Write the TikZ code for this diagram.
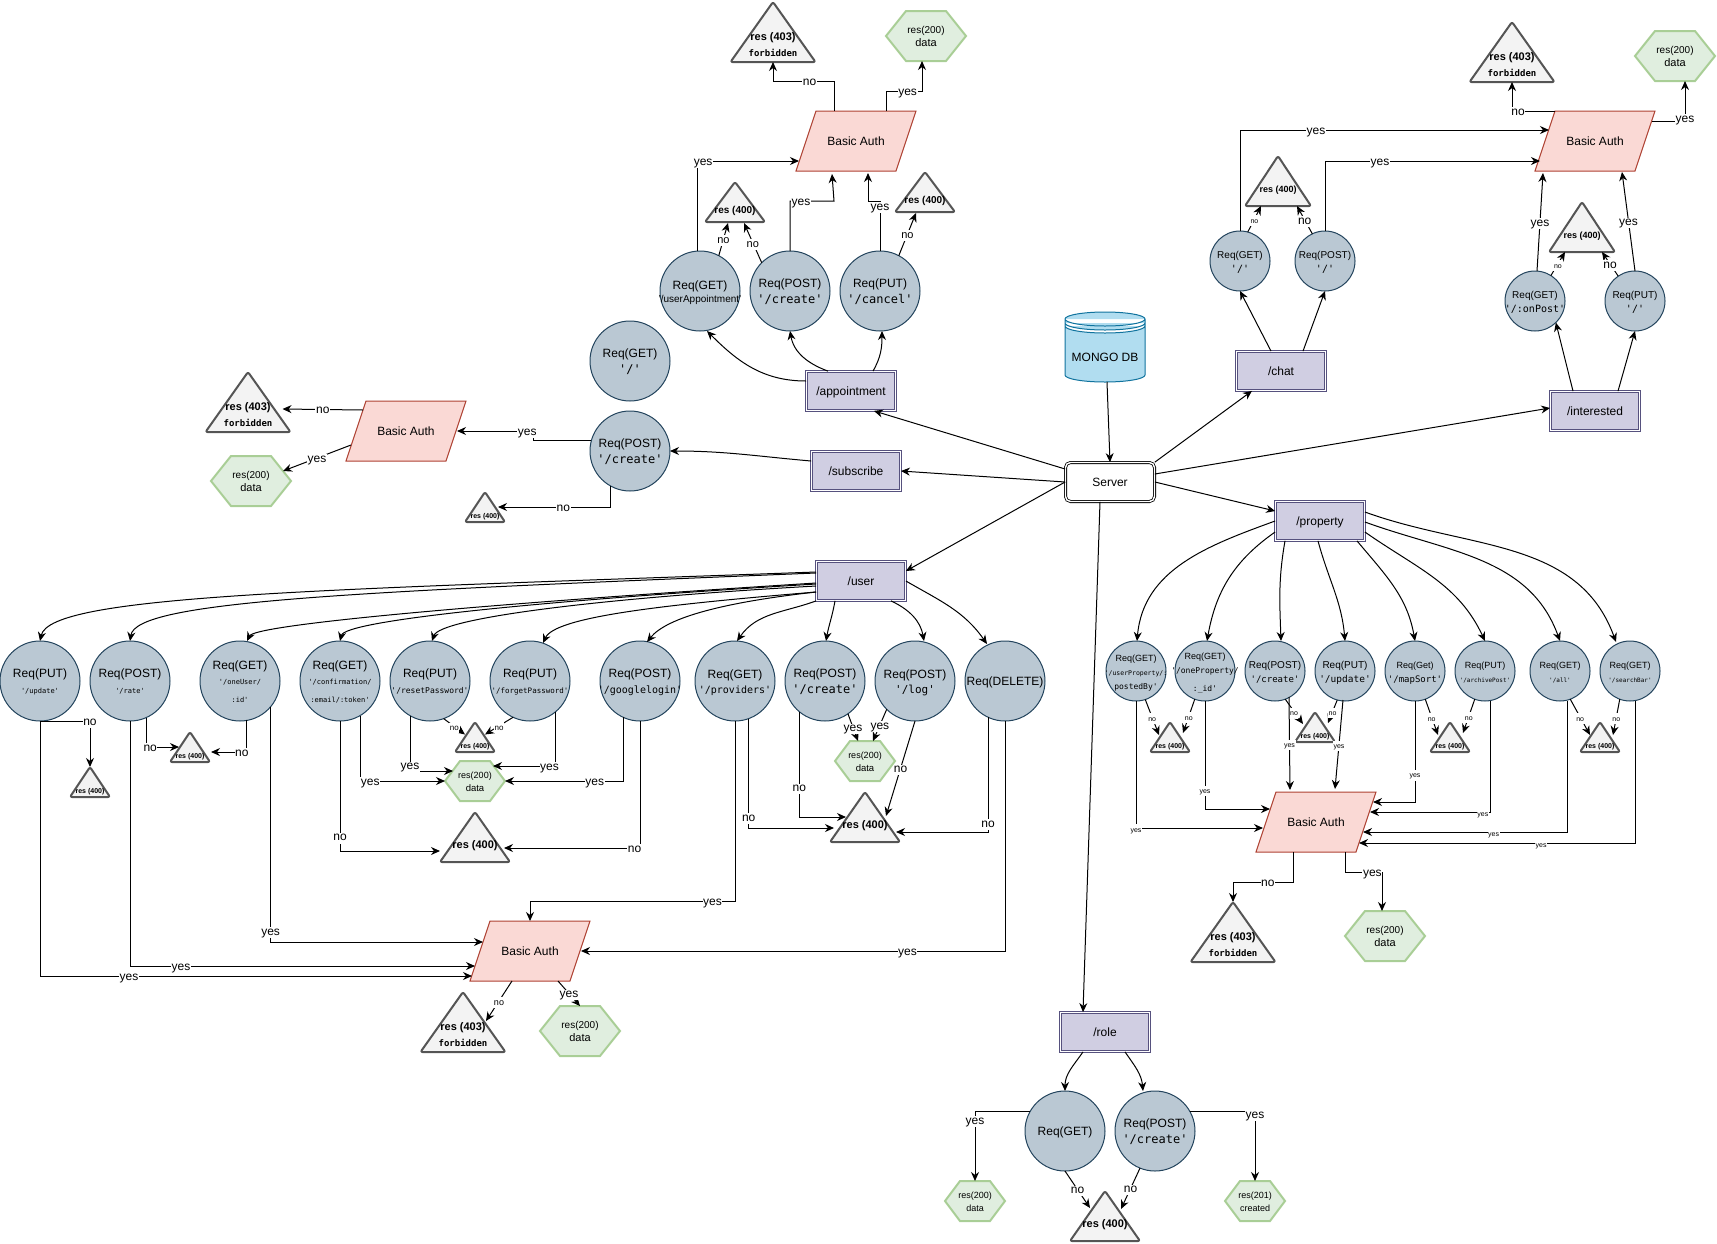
\documentclass[tikz,border=0pt]{standalone}
\usepackage{fontspec}
\usetikzlibrary{arrows.meta}
\setmainfont{Liberation Sans}
\setmonofont{DejaVu Sans Mono}
\pgfdeclarelayer{back}
\pgfsetlayers{back,main}
\definecolor{reqfill}{HTML}{BAC8D3}
\definecolor{reqline}{HTML}{23445D}
\definecolor{boxfill}{HTML}{D0CEE2}
\definecolor{boxline}{HTML}{56517E}
\definecolor{authfill}{HTML}{FAD9D5}
\definecolor{authline}{HTML}{AE4132}
\definecolor{hexfill}{HTML}{E0EEDF}
\definecolor{hexline}{HTML}{A9CE96}
\definecolor{trifill}{HTML}{F3F3F3}
\definecolor{triline}{HTML}{555555}
\definecolor{dbfill}{HTML}{B1DDF0}
\definecolor{dbline}{HTML}{10739E}
\newcommand{\fs}[1]{\fontsize{#1}{#1}\selectfont}
\newcommand{\mono}[2]{{\ttfamily\fs{#1}#2}}
\newcommand{\bare}[2][0pt]{\raisebox{\dimexpr-#1-5pt\relax}[0pt][0pt]{\makebox[0pt]{\begin{tabular}{@{}c@{}}#2\end{tabular}}}}
\newcommand{\badreq}[1]{\bare[6.5pt]{\fs{#1}\bfseries res (400)}}
\newcommand{\denied}{\bare[11.5pt]{\fs{11}\bfseries res (403)\\[4pt]\mono{9}{\bfseries forbidden}}}
\newcommand{\okdata}[2]{\bare{\fs{#1}res(200)\\[1pt]\fs{#2}data}}
\begin{document}
\begin{tikzpicture}[x=1pt,y=-1pt,
req/.style = {circle, draw=reqline, fill=reqfill, minimum size=#1, inner sep=0pt, outer sep=0pt, line width=1pt, font=\fs{12}},
req/.default = 80pt,
route/.style = {rectangle, draw=boxline, fill=boxfill, double=white, double distance=1.4pt, line width=.8pt, minimum width=89pt, minimum height=39pt, inner sep=0pt, font=\fs{12}},
tri/.style 2 args = {rectangle, minimum width=#1, minimum height=#2, inner sep=0pt, outer sep=0pt,
  append after command={\pgfextra{\begin{pgfonlayer}{back}
  \draw[draw=triline, fill=trifill, line width=2pt, rounded corners=2pt, line join=round]
    (\tikzlastnode.south west) -- (\tikzlastnode.north) -- (\tikzlastnode.south east) -- cycle;
  \end{pgfonlayer}}}},
hexa/.style 2 args = {rectangle, minimum width=#1, minimum height=#2, inner sep=0pt, outer sep=0pt, font=\fs{12},
  append after command={\pgfextra{\begin{pgfonlayer}{back}
  \draw[draw=hexline, fill=hexfill, line width=2pt]
    (\tikzlastnode.west) -- ([xshift=#1/4]\tikzlastnode.north west) -- ([xshift=-#1/4]\tikzlastnode.north east)
    -- (\tikzlastnode.east) -- ([xshift=-#1/4]\tikzlastnode.south east) -- ([xshift=#1/4]\tikzlastnode.south west) -- cycle;
  \end{pgfonlayer}}}},
auth/.style = {rectangle, minimum width=120pt, minimum height=60pt, inner sep=0pt, outer sep=0pt, font=\fs{12},
  append after command={\pgfextra{\begin{pgfonlayer}{back}
  \draw[draw=authline, fill=authfill, line width=1pt]
    (\tikzlastnode.south west) -- ([xshift=20pt]\tikzlastnode.north west) -- (\tikzlastnode.north east)
    -- ([xshift=-20pt]\tikzlastnode.south east) -- cycle;
  \end{pgfonlayer}}}},
store/.style = {rectangle, minimum width=80pt, minimum height=70pt, inner sep=0pt, outer sep=0pt, font=\fs{12},
  append after command={\pgfextra{\begin{pgfonlayer}{back}
  \draw[draw=dbline, fill=dbfill, line width=1pt]
    ([yshift=-7pt]\tikzlastnode.north west) arc[start angle=180,end angle=0,x radius=40pt,y radius=7pt]
    -- ([yshift=7pt]\tikzlastnode.south east) arc[start angle=0,end angle=-180,x radius=40pt,y radius=7pt] -- cycle
    ([yshift=-7pt]\tikzlastnode.north west) arc[start angle=180,end angle=360,x radius=40pt,y radius=7pt]
    ([yshift=-11pt]\tikzlastnode.north west) arc[start angle=180,end angle=360,x radius=40pt,y radius=7pt]
    ([yshift=-14pt]\tikzlastnode.north west) arc[start angle=180,end angle=360,x radius=40pt,y radius=7pt];
  \end{pgfonlayer}}}},
arr/.style = {-{Stealth[length=9pt,width=8pt]}, line width=1pt},
lab/.style = {fill=white, inner sep=.6pt, yshift=-1.5pt, text height=.75em, text depth=.2em, font=\fs{#1}},
lab/.default = 12,
]
\useasboundingbox (0,0) rectangle (1717,1243);

% server side
\node[store] (mongo) at (1105,347) {\bare[10pt]{MONGO DB}};
\node[rectangle, draw=black, fill=white, double, double distance=1.4pt, line width=.8pt, rounded corners=5pt, minimum width=89pt, minimum height=39pt, font=\fs{12}] (server) at (1110,482) {\bare{Server}};
\node[route] (appt) at (851,391) {\bare{/appointment}};
\node[route] (sub) at (856,471) {\bare{/subscribe}};
\node[route] (user) at (861,581) {\bare{/user}};
\node[route] (chat) at (1281,371) {\bare{/chat}};
\node[route] (inter) at (1595,411) {\bare{/interested}};
\node[route] (prop) at (1320,521) {\bare{/property}};
\node[route] (role) at (1105,1032) {\bare{/role}};
\draw[arr] ([xshift=2]mongo.south) -- (server.north);
\draw[arr] ([yshift=13]server.west) -- ([xshift=-22]appt.south east);
\draw[arr] (server.west) -- (sub.east);
\draw[arr] (server.west) -- ([yshift=10]user.east);
\draw[arr] ([xshift=-10]server.south) -- ([xshift=-22]role.north);
\draw[arr] (server.east) -- ([yshift=10]prop.west);
\draw[arr] ([yshift=8]server.east) -- ([yshift=3]inter.west);
\draw[arr] (server.north east) -- ([xshift=-29]chat.south);

% appointment
\node[req] (aGet) at (700,291) {\bare{Req(GET)\\[1pt]\fs{10}'/userAppointment'}};
\node[req] (aPost) at (790,291) {\bare{Req(POST)\\[4pt]\mono{12}{'/create'}}};
\node[req] (aPut) at (880,291) {\bare{Req(PUT)\\[3pt]\mono{12}{'/cancel'}}};
\node[auth] (aAuth) at (856,141) {\bare{Basic Auth}};
\node[tri={85pt}{60pt}] (aDeny) at (773,32) {\denied};
\node[hexa={80pt}{50pt}] (aOk) at (926,36) {\okdata{10}{11}};
\node[tri={60pt}{40pt}] (aBadL) at (735,202) {\badreq{10}};
\node[tri={60pt}{40pt}] (aBadR) at (925,192) {\badreq{10}};
\draw[arr] ([yshift=10]appt.west) to[out=180,in=-45] ([xshift=7]aGet.south);
\draw[arr] ([xshift=-23]appt.north) to[out=160,in=-80] (aPost.south);
\draw[arr] ([xshift=22]appt.north) to[out=60,in=-90] ([xshift=2]aPut.south);
\draw[arr] (aGet.62) -- node[lab=11]{no} ([xshift=-7,yshift=-1]aBadL.south);
\draw[arr] (aPost.135) -- node[lab=11]{no} ([xshift=9,yshift=-1]aBadL.south);
\draw[arr] (aPut.62) -- node[lab=11]{no} ([xshift=-9,yshift=-1]aBadR.south);
\draw[arr] ([xshift=-3]aGet.north) |- node[lab,pos=.53]{yes} ([xshift=3,yshift=-20]aAuth.west);
\draw[arr] (aPost.north) -- ++(0,-50) -- node[lab,pos=.25]{yes} ++(44,0) -- ([xshift=-24,yshift=-3]aAuth.south);
\draw[arr] (aPut.north) -- node[lab,pos=.9]{yes} ++(0,-50) -- ++(-12,0) -- ([xshift=12,yshift=-2]aAuth.south);
\draw[arr] ([xshift=-22]aAuth.north) -- ++(0,-30) -| node[lab,pos=.2]{no} (aDeny.south);
\draw[arr] ([xshift=30]aAuth.north) -- ++(0,-20) -| node[lab,pos=.3]{yes} ([xshift=-4]aOk.south);

% subscribe
\node[req] (sGet) at (630,361) {\bare{Req(GET)\\[4pt]\mono{12}{'/'}}};
\node[req] (sPost) at (630,451) {\bare{Req(POST)\\[4pt]\mono{12}{'/create'}}};
\node[auth] (sAuth) at (406,431) {\bare{Basic Auth}};
\node[tri={85pt}{60pt}] (sDeny) at (248,402) {\denied};
\node[hexa={80pt}{50pt}] (sOk) at (251,481) {\okdata{10}{11}};
\node[tri={40pt}{30pt}] (sBad) at (485,507) {\badreq{7}};
\draw[arr] ([yshift=10]sub.west) to[out=175,in=0] (sPost.east);
\draw[arr] (sPost.165) -- ++(-58,0) |- node[lab,pos=.54]{yes} ([xshift=-9]sAuth.east);
\draw[arr] (sPost.241) |- node[lab,pos=.71]{no} ([xshift=-7]sBad.east);
\draw[arr] ([xshift=17,yshift=21]sAuth.west) -- node[lab]{no} ([xshift=-8,yshift=-7]sDeny.east);
\draw[arr] ([xshift=5,yshift=-14]sAuth.west) -- node[lab]{yes} ([xshift=-8,yshift=10]sOk.east);

% chat
\node[req=60pt,font=\fs{10}] (cGet) at (1240,261) {\bare{Req(GET)\\[3pt]\mono{10}{'/'}}};
\node[req=60pt,font=\fs{10}] (cPost) at (1325,261) {\bare{Req(POST)\\[3pt]\mono{10}{'/'}}};
\node[tri={66pt}{50pt}] (cBad) at (1278,181) {\badreq{9}};
\draw[arr] ([xshift=-10]chat.north) -- (cGet.south);
\draw[arr] ([xshift=22]chat.north) -- (cPost.south);
\draw[arr] (cGet.75) -- node[lab=7]{no} ([xshift=-17]cBad.south);
\draw[arr] (cPost.115) -- node[lab]{no} ([xshift=19]cBad.south);

% interested
\node[req=60pt,font=\fs{10}] (iGet) at (1535,301) {\bare{Req(GET)\\[4pt]\mono{10}{'/:onPost'}}};
\node[req=60pt,font=\fs{10}] (iPut) at (1635,301) {\bare{Req(PUT)\\[4pt]\mono{10}{'/'}}};
\node[auth] (iAuth) at (1595,141) {\bare{Basic Auth}};
\node[tri={85pt}{60pt}] (iDeny) at (1512,52) {\denied};
\node[hexa={80pt}{50pt}] (iOk) at (1675,56) {\okdata{10}{11}};
\node[tri={66pt}{50pt}] (iBad) at (1582,227) {\badreq{9}};
\draw[arr] ([xshift=-22]inter.north) -- (iGet.-46);
\draw[arr] ([xshift=23]inter.north) -- (iPut.south);
\draw[arr] (iGet.58) -- node[lab=7]{no} ([xshift=-17]iBad.south);
\draw[arr] (iPut.124) -- node[lab]{no} ([xshift=20]iBad.south);
\draw[arr] ([xshift=2]iGet.north) -- node[lab]{yes} ([xshift=-52,yshift=-2]iAuth.south);
\draw[arr] (iPut.north) -- node[lab]{yes} ([xshift=27,yshift=-1]iAuth.south);
\draw[arr] (cGet.north) |- node[lab,pos=.623]{yes} ([xshift=14,yshift=11]iAuth.west);
\draw[arr] (cPost.north) |- node[lab,pos=.628]{yes} ([xshift=5,yshift=-20]iAuth.west);
\draw[arr] ([xshift=20]iAuth.north west) -| node[lab,pos=.43]{no} (iDeny.south);
\draw[arr] ([xshift=-3,yshift=20]iAuth.east) -| node[lab,pos=.54]{yes} ([xshift=10]iOk.south);

% user
\node[req] (uPut) at (40,681) {\bare{Req(PUT)\\[4pt]\mono{7}{'/update'}}};
\node[req] (uRate) at (130,681) {\bare{Req(POST)\\[4pt]\mono{7}{'/rate'}}};
\node[req] (uOne) at (240,681) {\bare{Req(GET)\\[3pt]\mono{7}{'/oneUser/}\\[6pt]\mono{7}{:id'}}};
\node[req] (uConf) at (340,681) {\bare{Req(GET)\\[3pt]\mono{7}{'/confirmation/}\\[6pt]\mono{7}{:email/:token'}}};
\node[req] (uReset) at (430,681) {\bare{Req(PUT)\\[4pt]\mono{8}{'/resetPassword'}}};
\node[req] (uForget) at (530,681) {\bare{Req(PUT)\\[4pt]\mono{7.5}{'/forgetPassword'}}};
\node[req] (uGoogle) at (640,681) {\bare{Req(POST)\\[4pt]\mono{10}{'/googlelogin'}}};
\node[req] (uProv) at (735,681) {\bare{Req(GET)\\[3pt]\mono{10}{'/providers'}}};
\node[req] (uCreate) at (825,681) {\bare{Req(POST)\\[4pt]\mono{12}{'/create'}}};
\node[req] (uLog) at (915,681) {\bare{Req(POST)\\[3pt]\mono{11}{'/log'}}};
\node[req] (uDel) at (1005,681) {\bare{Req(DELETE)}};
\node[tri={40pt}{30pt}] (uBadA) at (90,782) {\badreq{7}};
\node[tri={40pt}{30pt}] (uBadB) at (190,747) {\badreq{7}};
\node[tri={40pt}{30pt}] (uBadC) at (475,737) {\badreq{7}};
\node[hexa={60pt}{40pt}] (uOkA) at (475,781) {\okdata{9}{9.5}};
\node[tri={70pt}{50pt}] (uBadD) at (475,837) {\badreq{11}};
\node[hexa={60pt}{40pt}] (uOkB) at (865,761) {\okdata{9}{9.5}};
\node[tri={70pt}{50pt}] (uBadE) at (865,817) {\badreq{11}};
\node[auth] (uAuth) at (530,951) {\bare{Basic Auth}};
\node[tri={85pt}{60pt}] (uDeny) at (463,1022) {\denied};
\node[hexa={80pt}{50pt}] (uOkC) at (580,1031) {\okdata{10}{11}};
\draw[arr] ([yshift=9]user.west) .. controls +(-500,18) and +(10,-46) .. (uPut.north);
\draw[arr] ([yshift=8]user.west) .. controls +(-466,19) and +(6,-40) .. (uRate.north);
\draw[arr] ([yshift=-2]user.west) .. controls +(-350,22) and +(8,-16) .. ([xshift=7]uOne.north);
\draw[arr] ([yshift=-3]user.west) .. controls +(-266,16) and +(5,-21) .. (uConf.north);
\draw[arr] ([yshift=-5]user.west) .. controls +(-216,12) and +(8,-23) .. ([xshift=2]uReset.north);
\draw[arr] ([yshift=-11]user.west) .. controls +(-156,13) and +(12,-26) .. ([xshift=13,yshift=-2]uForget.north);
\draw[arr] ([yshift=-11]user.west) .. controls +(-90,10) and +(20,-25) .. ([xshift=7,yshift=-1]uGoogle.north);
\draw[arr] (user.south west) to[out=200,in=55] ([xshift=2]uProv.north);
\draw[arr] ([xshift=-26]user.south) to[out=-100,in=80] ([xshift=1]uCreate.north);
\draw[arr] ([xshift=30]user.south) to[out=-25,in=100] ([xshift=9]uLog.north);
\draw[arr] (user.east) to[out=-30,in=125] ([xshift=-18,yshift=-3]uDel.north);
\draw[arr] (uPut.south) -| node[lab,pos=.5]{no} (uBadA.north);
\draw[arr] (uPut.south) |- node[lab,pos=.603]{yes} ([xshift=2,yshift=-25]uAuth.west);
\draw[arr] (uRate.-66) |- node[lab,pos=.56]{no} ([xshift=-11]uBadB.center);
\draw[arr] (uRate.south) |- node[lab,pos=.574]{yes} ([xshift=5,yshift=-15]uAuth.west);
\draw[arr] (uOne.-80) |- node[lab,pos=.57]{no} ([xshift=21,yshift=-5]uBadB.center);
\draw[arr] (uOne.-40) |- node[lab,pos=.477]{yes} ([xshift=13,yshift=9]uAuth.west);
\draw[arr] (uConf.south) |- node[lab,pos=.445]{no} ([yshift=-14]uBadD.west);
\draw[arr] (uConf.-60) |- node[lab,pos=.56]{yes} (uOkA.west);
\draw[arr] (uReset.-120) |- node[lab,pos=.45]{yes} ([xshift=8,yshift=10]uOkA.west);
\draw[arr] (uReset.-70) -- node[lab=8]{no} ([xshift=-10,yshift=2.5]uBadC.center);
\draw[arr] (uForget.-115) -- node[lab=8]{no} ([xshift=10,yshift=2.5]uBadC.center);
\draw[arr] (uForget.-50) |- node[lab,pos=.55]{yes} ([xshift=-12,yshift=15]uOkA.east);
\draw[arr] (uGoogle.-115) |- node[lab,pos=.62]{yes} (uOkA.east);
\draw[arr] (uGoogle.south) |- node[lab,pos=.52]{no} ([xshift=-6,yshift=-11]uBadD.east);
\draw[arr] (uProv.-70) |- node[lab,pos=.45]{no} ([xshift=4,yshift=-11]uBadE.west);
\draw[arr] (uProv.south) -- ++(0,180) -| node[lab,pos=.055]{yes} (uAuth.north);
\draw[arr] (uCreate.-130) |- node[lab,pos=.36]{no} ([xshift=-19]uBadE.center);
\draw[arr] (uCreate.-55) -- node[lab]{yes} ([xshift=-7]uOkB.north);
\draw[arr] (uLog.-135) -- node[lab]{yes} ([xshift=8]uOkB.north);
\draw[arr] (uLog.south) -- node[lab]{no} ([xshift=21,yshift=1]uBadE.center);
\draw[arr] (uDel.-115) |- node[lab,pos=.46]{no} ([xshift=-4,yshift=-15]uBadE.east);
\draw[arr] (uDel.south) |- node[lab,pos=.615]{yes} ([xshift=-9]uAuth.east);
\draw[arr] ([xshift=-18]uAuth.south) -- node[lab=9]{no} ([xshift=23,yshift=1]uDeny.center);
\draw[arr] ([xshift=28]uAuth.south) -- node[lab]{yes} (uOkC.north);

% property
\node[req=60pt,font=\fs{9}] (pA) at (1136,671) {\bare{Req(GET)\\[5pt]\mono{6.5}{'/userProperty/:}\\[5pt]\mono{8}{postedBy'}}};
\node[req=60pt,font=\fs{9}] (pB) at (1205,671) {\bare{Req(GET)\\[5pt]\mono{8}{'/oneProperty/}\\[9pt]\mono{8}{:\_id'}}};
\node[req=60pt,font=\fs{10}] (pC) at (1275,671) {\bare{Req(POST)\\[4pt]\mono{9}{'/create'}}};
\node[req=60pt,font=\fs{10}] (pD) at (1345,671) {\bare{Req(PUT)\\[4pt]\mono{9.5}{'/update'}}};
\node[req=60pt,font=\fs{9}] (pE) at (1415,671) {\bare{Req(Get)\\[5pt]\mono{9}{'/mapSort'}}};
\node[req=60pt,font=\fs{9}] (pF) at (1485,671) {\bare{Req(PUT)\\[5pt]\mono{6}{'/archivePost'}}};
\node[req=60pt,font=\fs{9}] (pG) at (1560,671) {\bare{Req(GET)\\[5pt]\mono{6}{'/all'}}};
\node[req=60pt,font=\fs{9}] (pH) at (1630,671) {\bare{Req(GET)\\[5pt]\mono{6}{'/searchBar'}}};
\node[tri={40pt}{30pt}] (pBadA) at (1170,737) {\badreq{7}};
\node[tri={40pt}{30pt}] (pBadB) at (1315,727) {\badreq{7}};
\node[tri={40pt}{30pt}] (pBadC) at (1450,737) {\badreq{7}};
\node[tri={40pt}{30pt}] (pBadD) at (1600,737) {\badreq{7}};
\node[auth] (pAuth) at (1316,822) {\bare{Basic Auth}};
\node[tri={85pt}{60pt}] (pDeny) at (1233,932) {\denied};
\node[hexa={80pt}{50pt}] (pOk) at (1385,936) {\okdata{10}{11}};
\draw[arr] (prop.west) to[out=200,in=85] ([xshift=1]pA.north);
\draw[arr] ([yshift=-11]prop.west) to[out=215,in=80] ([xshift=2]pB.north);
\draw[arr] ([xshift=-35]prop.south) to[out=-100,in=92] ([xshift=6]pC.north);
\draw[arr] ([xshift=-2]prop.south) to[out=-75,in=95] (pD.north);
\draw[arr] ([xshift=37]prop.south) to[out=-50,in=100] (pE.north);
\draw[arr] ([yshift=-11]prop.east) to[out=-35,in=115] (pF.north);
\draw[arr] ([yshift=-1]prop.east) to[out=-20,in=110] (pG.north);
\draw[arr] ([yshift=9]prop.east) to[out=-20,in=110] ([xshift=-14,yshift=-1]pH.north);
\draw[arr] (pA.-72) -- node[lab=7]{no} ([xshift=-11,yshift=2]pBadA.center);
\draw[arr] (pB.-110) -- node[lab=7]{no} ([xshift=13,yshift=4]pBadA.center);
\draw[arr] (pC.-70) -- node[lab=7]{no} ([xshift=-12,yshift=3]pBadB.center);
\draw[arr] (pD.-105) -- node[lab=7]{no} ([xshift=13,yshift=4]pBadB.center);
\draw[arr] (pE.-70) -- node[lab=7]{no} ([xshift=-12,yshift=2]pBadC.center);
\draw[arr] (pF.-110) -- node[lab=7]{no} ([xshift=13,yshift=4]pBadC.center);
\draw[arr] (pG.-70) -- node[lab=7]{no} ([xshift=-10,yshift=2]pBadD.center);
\draw[arr] (pH.-110) -- node[lab=7]{no} ([xshift=13,yshift=2]pBadD.center);
\draw[arr] (pA.south) |- node[lab=7,pos=.5]{yes} ([xshift=7,yshift=-6]pAuth.west);
\draw[arr] (pB.south) |- node[lab=7,pos=.41]{yes} ([xshift=14,yshift=13]pAuth.west);
\draw[arr] ([xshift=14,yshift=4]pC.south) -- node[lab=7]{yes} ([xshift=-26,yshift=2]pAuth.north);
\draw[arr] ([xshift=-2,yshift=1]pD.south) -- node[lab=7]{yes} ([xshift=19,yshift=3]pAuth.north);
\draw[arr] (pE.south) |- node[lab=7,pos=.36]{yes} ([xshift=-3,yshift=20]pAuth.east);
\draw[arr] ([xshift=5]pF.south) |- node[lab=7,pos=.53]{yes} ([xshift=-6,yshift=10]pAuth.east);
\draw[arr] ([xshift=7]pG.south) |- node[lab=7,pos=.68]{yes} ([xshift=-13,yshift=-10]pAuth.east);
\draw[arr] ([xshift=5]pH.south) |- node[lab=7,pos=.67]{yes} ([xshift=-17,yshift=-21]pAuth.east);
\draw[arr] ([xshift=-23]pAuth.south) -- ++(0,30) -| node[lab,pos=.21]{no} (pDeny.north);
\draw[arr] ([xshift=29]pAuth.south) -- ++(0,20) -| node[lab,pos=.37]{yes} ([xshift=-3]pOk.north);

% role
\node[req] (rGet) at (1065,1131) {\bare{Req(GET)}};
\node[req] (rPost) at (1155,1131) {\bare{Req(POST)\\[4pt]\mono{12}{'/create'}}};
\node[hexa={60pt}{40pt}] (rOk) at (975,1201) {\okdata{9}{9}};
\node[hexa={60pt}{40pt}] (rNew) at (1255,1201) {\bare{\fs{9}res(201)\\[1pt]\fs{9}created}};
\node[tri={70pt}{50pt}] (rBad) at (1105,1216) {\badreq{11}};
\draw[arr] ([xshift=-22]role.south) to[out=-125,in=90] (rGet.north);
\draw[arr] ([xshift=20]role.south) to[out=-55,in=95] ([xshift=-12]rPost.north);
\draw[arr] (rGet.150) -| node[lab,pos=.565]{yes} (rOk.north);
\draw[arr] (rPost.30) -| node[lab,pos=.52]{yes} (rNew.north);
\draw[arr] (rGet.south) -- node[lab]{no} ([xshift=-15,yshift=8]rBad.center);
\draw[arr] (rPost.-112) -- node[lab]{no} ([xshift=16,yshift=7]rBad.center);

\end{tikzpicture}
\end{document}
